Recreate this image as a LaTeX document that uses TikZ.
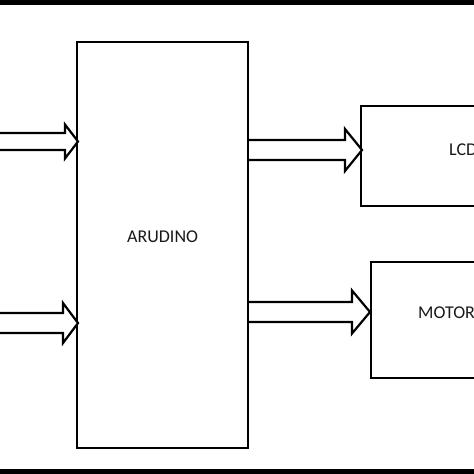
\documentclass[tikz,border=0pt]{standalone}
\usepackage{fontspec}
\setmainfont{Carlito}
\usetikzlibrary{calc}
\tikzset{
  box/.style={draw=black, line width=2.2pt, fill=white, inner sep=0pt, anchor=north west},
  lbl/.style={font=\fontsize{18}{21}\selectfont, text=black!90, inner sep=0pt},
  arr/.style={draw=black, line width=2.2pt, fill=white, line join=miter}
}
\newcommand\barrow[6]{%
  \draw[arr] let \p1=(#1), \p2=(#2) in
    (\x1,-#3pt+#4pt) -- (\x2-#6pt,-#3pt+#4pt) -- (\x2-#6pt,-#3pt+#5pt) -- (\x2,-#3pt)
    -- (\x2-#6pt,-#3pt-#5pt) -- (\x2-#6pt,-#3pt-#4pt) -- (\x1,-#3pt-#4pt);}
\begin{document}
\begin{tikzpicture}[x=1pt,y=-1pt]
\useasboundingbox (0,0) rectangle (474,474);
\clip (0,0) rectangle (474,474);
\fill[white] (0,0) rectangle (474,474);
% top and bottom bars
\fill[black] (0,0) rectangle (474,4.5);
\fill[black] (0,469) rectangle (474,474);
% boxes
\node[box, minimum width=171pt, minimum height=406pt,
      label={[lbl, yshift=8pt]center:ARUDINO}] (ard) at (76,41) {};
\node[box, minimum width=212pt, minimum height=100pt,
      label={[lbl, anchor=west, label distance=0pt, xshift=89pt, yshift=6pt]west:LCD}] (lcd) at (360,105) {};
\node[box, minimum width=236pt, minimum height=116pt,
      label={[lbl, anchor=west, label distance=0pt, xshift=48pt, yshift=7pt]west:MOTOR}] (mot) at (370,261) {};
% free ends of the input arrows
\coordinate (in1) at (-10,141);
\coordinate (in2) at (-10,323);
% block arrows
\barrow{in1}{$(ard.west)+(2,0)$}{141.5}{8.5}{17}{13}
\barrow{in2}{$(ard.west)+(2,0)$}{323}{10}{20}{15}
\barrow{ard.east}{$(lcd.west)+(2,0)$}{150}{10}{21}{17}
\barrow{ard.east}{$(mot.west)+(0,0)$}{312}{10}{21.5}{18}
\end{tikzpicture}
\end{document}
